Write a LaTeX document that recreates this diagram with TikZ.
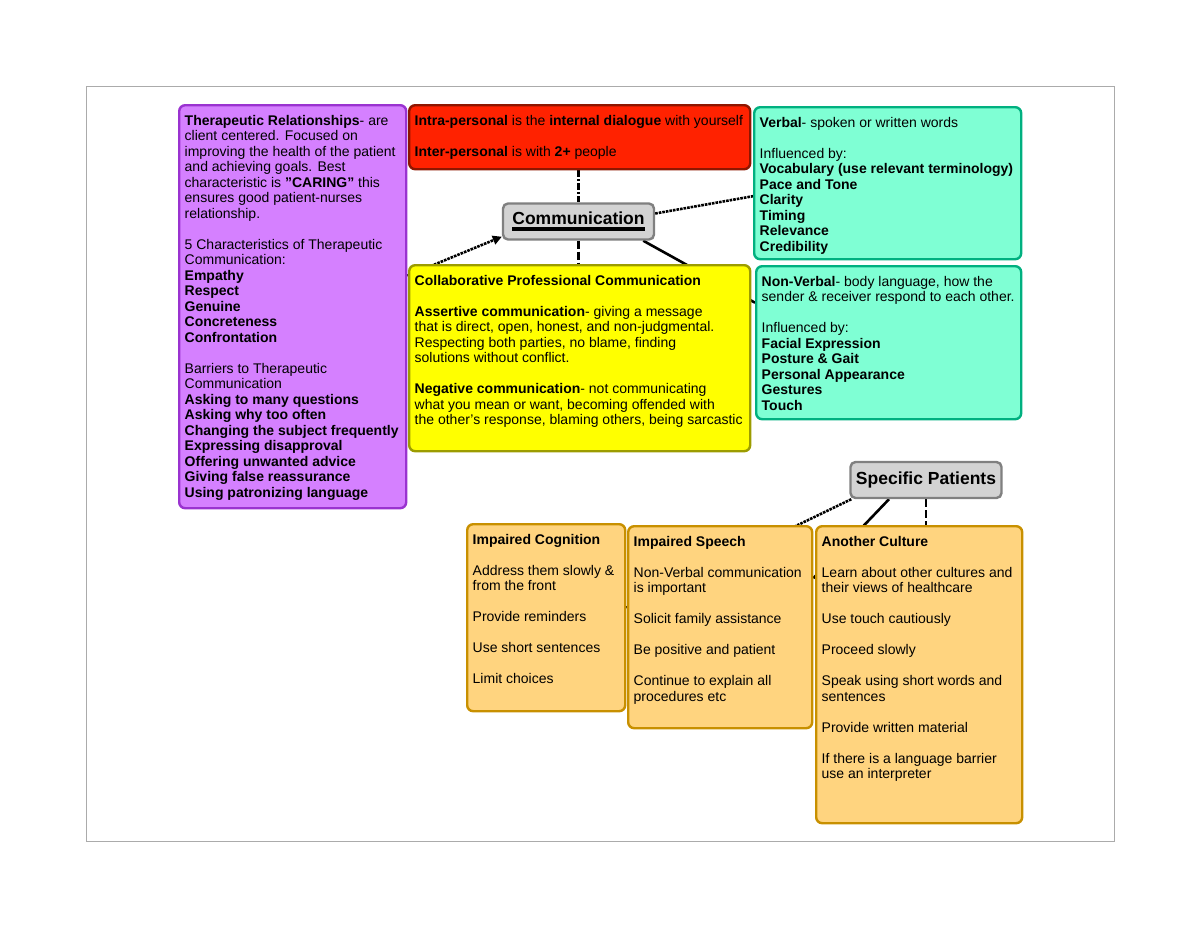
\documentclass[tikz,border=0pt]{standalone}
\usepackage{fontspec}
\setmainfont{Liberation Sans}
\usetikzlibrary{arrows.meta,backgrounds}

\definecolor{lilac}{HTML}{D580FF}
\definecolor{lilacedge}{HTML}{9A33D0}
\definecolor{flame}{HTML}{FF2200}
\definecolor{flameedge}{HTML}{8E1600}
\definecolor{aqua}{HTML}{7FFFD4}
\definecolor{aquaedge}{HTML}{00B080}
\definecolor{lemon}{HTML}{FFFF00}
\definecolor{lemonedge}{HTML}{9C9C00}
\definecolor{apricot}{HTML}{FFD47F}
\definecolor{apricotedge}{HTML}{C89000}
\definecolor{hubfill}{HTML}{D3D3D3}
\definecolor{hubedge}{HTML}{808080}

% box body: width, height, text
\newcommand{\panelbody}[3]{\begin{minipage}[t][#2pt][t]{\dimexpr#1pt-11pt\relax}\raggedright\rule{0pt}{20pt}#3\end{minipage}}
\newcommand{\gap}{\\[\baselineskip]}
\newcommand{\heavyul}[1]{\setbox0\hbox{#1}\rlap{\rule[-6pt]{\wd0}{3.5pt}}\box0}
\newcommand{\dq}{\symbol{"22}}

\tikzset{
  panel/.style={draw, line width=2.4pt, rounded corners=6pt, anchor=north west,
    inner xsep=5.5pt, inner ysep=0pt},
  hub/.style={draw=hubedge, fill=hubfill, line width=2.4pt, rounded corners=5pt,
    inner sep=0pt, minimum width=151pt, minimum height=36pt,
    font=\fontsize{17.5}{20}\selectfont\bfseries},
  link/.style={line width=2.6pt, black},
  dotlink/.style={link, dash pattern=on 2.6pt off 1pt},
  dashlink/.style={link, dash pattern=on 8pt off 3pt},
  dashdotlink/.style={link, dash pattern=on 7pt off 2pt on 2pt off 2pt},
}

\begin{document}
\begin{tikzpicture}[x=1pt,y=-1pt,font=\fontsize{14}{15.5}\selectfont]
  \useasboundingbox (0,0) rectangle (1200,927);
  \draw[black!33, line width=1pt] (86,86) rectangle (1114,841);

  % hubs
  \node[hub] (comm) at (578.5,221.5) {\heavyul{Communication}};
  \node[hub] (patients) at (926,480) {Specific Patients};

  % boxes
  \node[panel, draw=lilacedge, fill=lilac] (therapy) at (178,104) {\panelbody{227}{403}{%
    \textbf{Therapeutic Relationships}- are\\
    client centered. Focused on\\
    improving the health of the patient\\
    and achieving goals. Best\\
    characteristic is \textbf{\dq CARING\dq} this\\
    ensures good patient-nurses\\
    relationship.\gap
    5 Characteristics of Therapeutic\\
    Communication:\\
    \textbf{Empathy}\\
    \textbf{Respect}\\
    \textbf{Genuine}\\
    \textbf{Concreteness}\\
    \textbf{Confrontation}\gap
    Barriers to Therapeutic\\
    Communication\\
    \textbf{Asking to many questions}\\
    \textbf{Asking why too often}\\
    \textbf{Changing the subject frequently}\\
    \textbf{Expressing disapproval}\\
    \textbf{Offering unwanted advice}\\
    \textbf{Giving false reassurance}\\
    \textbf{Using patronizing language}}};
  \node[panel, draw=flameedge, fill=flame] (intra) at (408,104) {\panelbody{341}{64}{%
    \textbf{Intra-personal} is the \textbf{internal dialogue} with yourself\gap
    \textbf{Inter-personal} is with \textbf{2+} people}};
  \node[panel, draw=aquaedge, fill=aqua] (verbal) at (753,106) {\panelbody{267}{152}{%
    \textbf{Verbal}- spoken or written words\gap
    Influenced by:\\
    \textbf{Vocabulary (use relevant terminology)}\\
    \textbf{Pace and Tone}\\
    \textbf{Clarity}\\
    \textbf{Timing}\\
    \textbf{Relevance}\\
    \textbf{Credibility}}};
  \node[panel, draw=lemonedge, fill=lemon] (collab) at (408,264) {\panelbody{341}{186}{%
    \textbf{Collaborative Professional Communication}\gap
    \textbf{Assertive communication}- giving a message\\
    that is direct, open, honest, and non-judgmental.\\
    Respecting both parties, no blame, finding\\
    solutions without conflict.\gap
    \textbf{Negative communication}- not communicating\\
    what you mean or want, becoming offended with\\
    the other\symbol{"27}s response, blaming others, being sarcastic}};
  \node[panel, draw=aquaedge, fill=aqua] (nonverbal) at (755,265) {\panelbody{265}{153}{%
    \textbf{Non-Verbal}- body language, how the\\
    sender \& receiver respond to each other.\gap
    Influenced by:\\
    \textbf{Facial Expression}\\
    \textbf{Posture \& Gait}\\
    \textbf{Personal Appearance}\\
    \textbf{Gestures}\\
    \textbf{Touch}}};
  \node[panel, draw=apricotedge, fill=apricot] (cognition) at (466,523) {\panelbody{158}{187}{%
    \textbf{Impaired Cognition}\gap
    Address them slowly \&\\
    from the front\gap
    Provide reminders\gap
    Use short sentences\gap
    Limit choices}};
  \node[panel, draw=apricotedge, fill=apricot] (speech) at (627,525) {\panelbody{184}{202}{%
    \textbf{Impaired Speech}\gap
    Non-Verbal communication\\
    is important\gap
    Solicit family assistance\gap
    Be positive and patient\gap
    Continue to explain all\\
    procedures etc}};
  \node[panel, draw=apricotedge, fill=apricot] (culture) at (815,525) {\panelbody{206}{297}{%
    \textbf{Another Culture}\gap
    Learn about other cultures and\\
    their views of healthcare\gap
    Use touch cautiously\gap
    Proceed slowly\gap
    Speak using short words and\\
    sentences\gap
    Provide written material\gap
    If there is a language barrier\\
    use an interpreter}};

  % connectors
  \begin{scope}[on background layer]
    \draw[dashdotlink] (comm.north |- intra.south) -- (comm.north);
    \draw[dashlink] (comm.south) -- (comm.south |- collab.north);
    \draw[dotlink] ([yshift=8pt]comm.east) -- ([yshift=-13pt]verbal.west);
    \draw[link] ([xshift=-12pt]comm.south east) -- ([yshift=40pt]nonverbal.west);
    \draw[dotlink, -{Triangle[length=9pt,width=9pt]}] ([yshift=31pt]therapy.east) -- ([yshift=4pt]comm.south west);
    \draw[dotlink] ([xshift=2pt]patients.south west) -- ([yshift=10pt]cognition.east);
    \draw[link] ([xshift=-37pt]patients.south) -- ([yshift=49pt]speech.east);
    \draw[dashlink] (patients.south) -- (patients.south |- culture.north);
  \end{scope}
\end{tikzpicture}
\end{document}
